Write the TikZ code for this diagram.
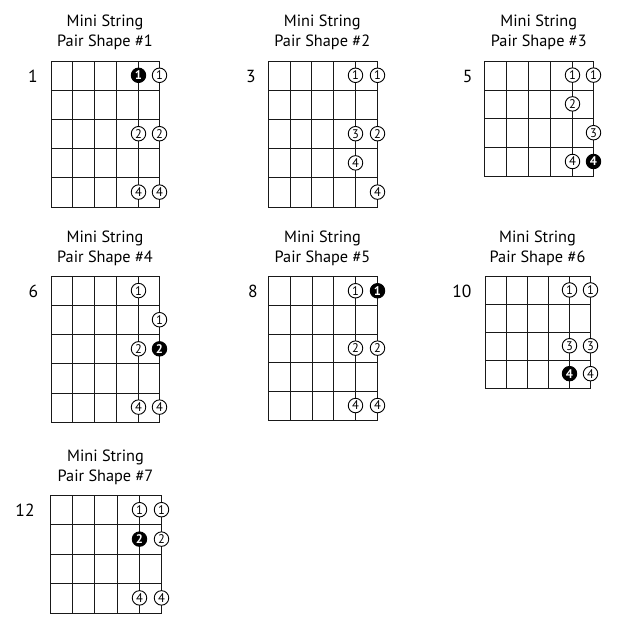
\documentclass[tikz,border=0pt]{standalone}
\usepackage{fontspec}
\setmainfont{PT Sans}
\tikzset{
  gridline/.style={line width=1.1pt, black!90},
  fing/.style={circle, draw, line width=0.9pt, fill=white, minimum size=14.5pt,
    inner sep=0pt, font=\fontsize{12.5}{12.5}\selectfont},
  fingb/.style={fing, fill=black, text=white, font=\fontsize{12.5}{12.5}\selectfont\bfseries},
  title/.style={anchor=base, inner sep=0pt, font=\fontsize{16.3}{20}\selectfont},
  fretno/.style={inner sep=0pt, font=\fontsize{17.5}{18}\selectfont},
}
% #1 id, #2 left, #3 top, #4 column width, #5 row height, #6 rows, #7 fret, #8 fret label x
\newcommand\pairgrid[8]{%
  \pgfmathsetmacro\gl{round(#2)+0.5}%
  \pgfmathsetmacro\gt{round(#3)+0.5}%
  \pgfmathsetmacro\gr{round(#2+5*#4)+0.5}%
  \pgfmathsetmacro\gb{round(#3+#6*#5)+0.5}%
  \draw[gridline] (\gl,\gt) rectangle (\gr,\gb);
  \foreach \i in {1,...,4} {
    \pgfmathsetmacro\xx{round(#2+\i*#4)+0.5}
    \draw[gridline] (\xx,\gt) -- (\xx,\gb);
  }
  \foreach \i in {1,...,#6} {
    \pgfmathsetmacro\yy{round(#3+\i*#5)+0.5}
    \draw[gridline] (\gl,\yy) -- (\gr,\yy);
  }
  \foreach \r in {1,...,#6} {
    \pgfmathsetmacro\sx{round(#2+4*#4)+0.5}
    \pgfmathsetmacro\sy{#3+(\r-0.5)*#5}
    \coordinate (#1-5-\r) at (\sx,\sy);
    \coordinate (#1-6-\r) at (\gr,\sy);
  }
  \node[fretno] (#1-fret) at (#8,{#3+0.5*#5+1}) {#7};
}
\newcommand\pairtitle[4]{% #1 id, #2 center x, #3 grid top, #4 shape number
  \node[title] (#1-t1) at (#2,{#3-34}) {Mini String};
  \node[title] (#1-t2) at (#2,{#3-14}) {Pair Shape \##4};
}
\begin{document}
\begin{tikzpicture}[x=1pt,y=-1pt]
\useasboundingbox[fill=white] (0,0) rectangle (625,635);

% Shape 1
\pairgrid{g1}{50.7}{60.7}{21.72}{29.2}{5}{1}{33}
\pairtitle{g1}{105}{60.7}{1}
\node[fingb] (g1a) at (g1-5-1) {1};
\node[fing]  (g1b) at (g1-6-1) {1};
\node[fing]  (g1c) at (g1-5-3) {2};
\node[fing]  (g1d) at (g1-6-3) {2};
\node[fing]  (g1e) at (g1-5-5) {4};
\node[fing]  (g1f) at (g1-6-5) {4};

% Shape 2
\pairgrid{g2}{267.9}{60.7}{21.76}{29.2}{5}{3}{250.8}
\pairtitle{g2}{322.3}{60.7}{2}
\node[fing] (g2a) at (g2-5-1) {1};
\node[fing] (g2b) at (g2-6-1) {1};
\node[fing] (g2c) at (g2-5-3) {3};
\node[fing] (g2d) at (g2-6-3) {2};
\node[fing] (g2e) at (g2-5-4) {4};
\node[fing] (g2f) at (g2-6-5) {4};

% Shape 3
\pairgrid{g3}{484.3}{60.7}{21.8}{28.8}{4}{5}{467.7}
\pairtitle{g3}{538.8}{60.7}{3}
\node[fing]  (g3a) at (g3-5-1) {1};
\node[fing]  (g3b) at (g3-6-1) {1};
\node[fing]  (g3c) at (g3-5-2) {2};
\node[fing]  (g3d) at (g3-6-3) {3};
\node[fing]  (g3e) at (g3-5-4) {4};
\node[fingb] (g3f) at (g3-6-4) {4};

% Shape 4
\pairgrid{g4}{50.7}{276}{21.72}{29.14}{5}{6}{33.3}
\pairtitle{g4}{105}{276}{4}
\node[fing]  (g4a) at (g4-5-1) {1};
\node[fing]  (g4b) at (g4-6-2) {1};
\node[fing]  (g4c) at (g4-5-3) {2};
\node[fingb] (g4d) at (g4-6-3) {2};
\node[fing]  (g4e) at (g4-5-5) {4};
\node[fing]  (g4f) at (g4-6-5) {4};

% Shape 5
\pairgrid{g5}{268.3}{276.4}{21.68}{28.7}{5}{8}{253}
\pairtitle{g5}{322.5}{276.4}{5}
\node[fing]  (g5a) at (g5-5-1) {1};
\node[fingb] (g5b) at (g5-6-1) {1};
\node[fing]  (g5c) at (g5-5-3) {2};
\node[fing]  (g5d) at (g5-6-3) {2};
\node[fing]  (g5e) at (g5-5-5) {4};
\node[fing]  (g5f) at (g5-6-5) {4};

% Shape 6
\pairgrid{g6}{485}{276}{21}{27.9}{4}{10}{461.8}
\pairtitle{g6}{537.5}{276}{6}
\node[fing]  (g6a) at (g6-5-1) {1};
\node[fing]  (g6b) at (g6-6-1) {1};
\node[fing]  (g6c) at (g6-5-3) {3};
\node[fing]  (g6d) at (g6-6-3) {3};
\node[fingb] (g6e) at (g6-5-4) {4};
\node[fing]  (g6f) at (g6-6-4) {4};

% Shape 7
\pairgrid{g7}{50}{495}{22.2}{29.4}{4}{12}{25}
\pairtitle{g7}{105.5}{495}{7}
\node[fing]  (g7a) at (g7-5-1) {1};
\node[fing]  (g7b) at (g7-6-1) {1};
\node[fingb] (g7c) at (g7-5-2) {2};
\node[fing]  (g7d) at (g7-6-2) {2};
\node[fing]  (g7e) at (g7-5-4) {4};
\node[fing]  (g7f) at (g7-6-4) {4};
\end{tikzpicture}
\end{document}
